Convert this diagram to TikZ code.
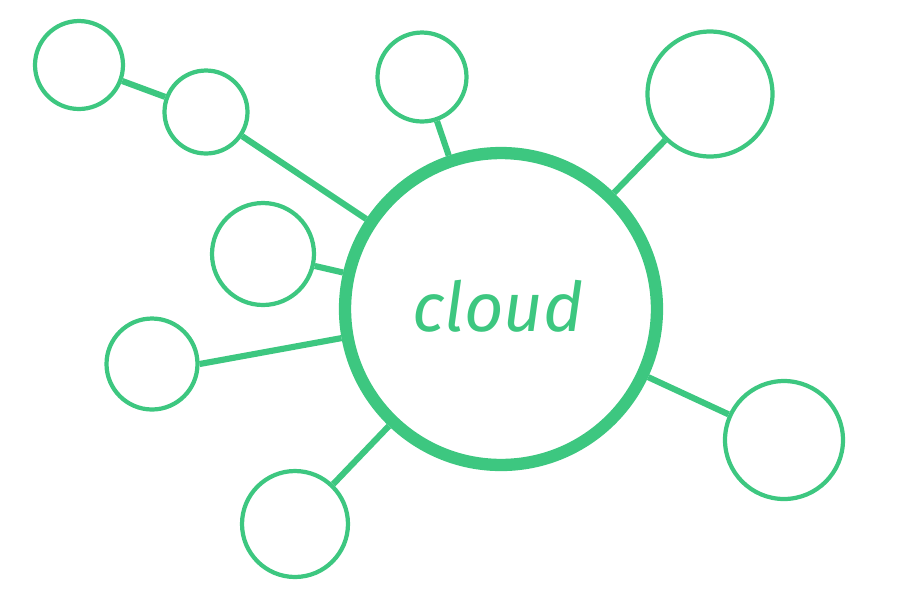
\documentclass[tikz,border=0pt]{standalone}
\usepackage{fontspec}
\newfontfamily\handfont{Fira Sans}
\definecolor{leaf}{HTML}{3DC780}

\begin{document}
\begin{tikzpicture}[x=0.02cm,y=-0.02cm,
  bubble/.style={circle,draw=leaf,line width=2.4pt,inner sep=0pt,minimum size=#1},
  hub/.style={circle,draw=leaf,line width=7pt,inner sep=0pt,minimum size=6.24cm},
  link/.style={draw=leaf,line width=3.5pt}]
\useasboundingbox (0,0) rectangle (900,600);

\node[hub] (cloud) at (501,309) {};
\node[text=leaf,font=\handfont\itshape\fontsize{39}{46}\selectfont] (word) at (498,306) {cloud};

\node[bubble=1.76cm] (a) at (79,65)   {};
\node[bubble=1.66cm] (b) at (206,112) {};
\node[bubble=1.78cm] (c) at (422,77)  {};
\node[bubble=2.5cm]  (d) at (710,94)  {};
\node[bubble=2.04cm] (e) at (263,254) {};
\node[bubble=1.82cm] (f) at (152,364) {};
\node[bubble=2.36cm] (g) at (784,440) {};
\node[bubble=2.12cm] (h) at (295,524) {};

\path[link] (a) -- (b);
\path[link] (b) -- (cloud);
\path[link] (c) -- (cloud);
\path[link] (d) -- (cloud);
\path[link] (e) -- (cloud);
\path[link] (f.east) -- (cloud);
\path[link] (g) -- (cloud);
\path[link] (h) -- (cloud);

\end{tikzpicture}
\end{document}
